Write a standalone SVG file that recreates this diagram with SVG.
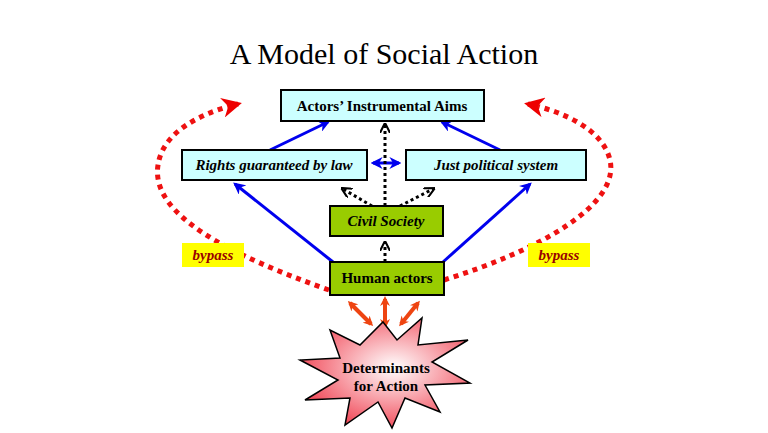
<svg xmlns="http://www.w3.org/2000/svg" width="768" height="433" viewBox="0 0 768 433">
<defs>
<marker id="bl" viewBox="0 0 10 10" refX="8" refY="5" markerWidth="4" markerHeight="4" orient="auto-start-reverse"><path d="M0,0 L10,5 L0,10 L3,5 Z" fill="#0000ee"/></marker>
<marker id="bk" viewBox="0 0 10 10" refX="8" refY="5" markerWidth="3.5" markerHeight="3.5" orient="auto"><path d="M0,0 L10,5 L0,10" fill="none" stroke="#000" stroke-width="2"/></marker>
<marker id="rd" viewBox="0 0 10 10" refX="8" refY="5" markerWidth="4" markerHeight="4" orient="auto"><path d="M0,0 L10,5 L0,10 L3,5 Z" fill="#ee0000"/></marker>
<marker id="or" viewBox="0 0 10 10" refX="7" refY="5" markerWidth="2.5" markerHeight="2.5" orient="auto-start-reverse"><path d="M0,0 L10,5 L0,10 L3,5 Z" fill="#ee4411"/></marker>
<radialGradient id="sg" cx="0.55" cy="0.45" r="0.6"><stop offset="0" stop-color="#fff"/><stop offset="1" stop-color="#f04050"/></radialGradient>
</defs>
<style>
.bx{stroke:#000;stroke-width:2}
.cy{fill:#ccffff}.gr{fill:#99cc00}
.t{font-family:'Liberation Serif','Times New Roman',serif;font-weight:bold;font-size:15px;text-anchor:middle}
.i{font-style:italic}
.blue{stroke:#0000ee;stroke-width:3;fill:none;marker-end:url(#bl)}
.dot{stroke:#000;stroke-width:3;stroke-dasharray:3 3;fill:none;marker-end:url(#bk)}
.red{stroke:#ee1111;stroke-width:5;stroke-dasharray:5 5;fill:none;marker-end:url(#rd)}
.or{stroke:#ee4411;stroke-width:4;fill:none;marker-start:url(#or);marker-end:url(#or)}
</style>
<rect width="768" height="433" fill="#fff"/>
<text x="384" y="64" font-family="'Liberation Serif',serif" font-size="30" text-anchor="middle">A Model of Social Action</text>
<g id="connectors">
<path class="blue" d="M270,150 L328,122"/>
<path class="blue" d="M500,150 L442,122"/>
<path class="blue" d="M333,262 L235,184"/>
<path class="blue" d="M443,262 L530,184"/>
<path class="blue" d="M373,163 L399,163" marker-start="url(#bl)"/>
<path class="dot" d="M385,206 L385,125"/>
<path class="dot" d="M372,206 L343,189"/>
<path class="dot" d="M400,206 L433,189"/>
<path class="dot" d="M385,262 L385,243"/>
<path class="red" d="M329,290 C230,255 150,215 158,165 C163,130 205,112 238,104"/>
<path class="red" d="M444,280 C540,250 620,205 610,160 C603,130 565,112 528,104"/>
<path class="or" d="M350,303 L371,324"/>
<path class="or" d="M385,299 L385,326"/>
<path class="or" d="M418,303 L401,324"/>
</g>
<g id="aims"><rect class="bx cy" x="281" y="90" width="203" height="31"/><text class="t" x="382" y="111">Actors’ Instrumental Aims</text></g>
<g id="rights"><rect class="bx cy" x="182" y="150" width="185" height="30"/><text class="t i" x="274" y="170">Rights guaranteed by law</text></g>
<g id="just"><rect class="bx cy" x="406" y="150" width="180" height="30"/><text class="t i" x="496" y="170">Just political system</text></g>
<g id="civil"><rect class="bx gr" x="330" y="206" width="113" height="30"/><text class="t i" x="386" y="226">Civil Society</text></g>
<g id="human"><rect class="bx gr" x="330" y="262" width="114" height="33"/><text class="t" x="387" y="283">Human actors</text></g>
<g id="bypassL"><rect x="182" y="243" width="62" height="24" fill="#ffff00"/><text class="t i" x="213" y="260" fill="#990000">bypass</text></g>
<g id="bypassR"><rect x="528" y="243" width="62" height="24" fill="#ffff00"/><text class="t i" x="559" y="260" fill="#990000">bypass</text></g>
<g id="determinants">
<polygon points="383,322 397,340 422,318 418,345 468,340 432,362 470,383 425,385 440,412 405,398 392,428 378,402 345,425 350,398 305,400 338,380 300,360 340,358 330,330 360,345" fill="url(#sg)" stroke="#000" stroke-width="1.5"/>
<text class="t" x="386" y="373">Determinants</text>
<text class="t" x="386" y="391">for Action</text>
</g>
</svg>
